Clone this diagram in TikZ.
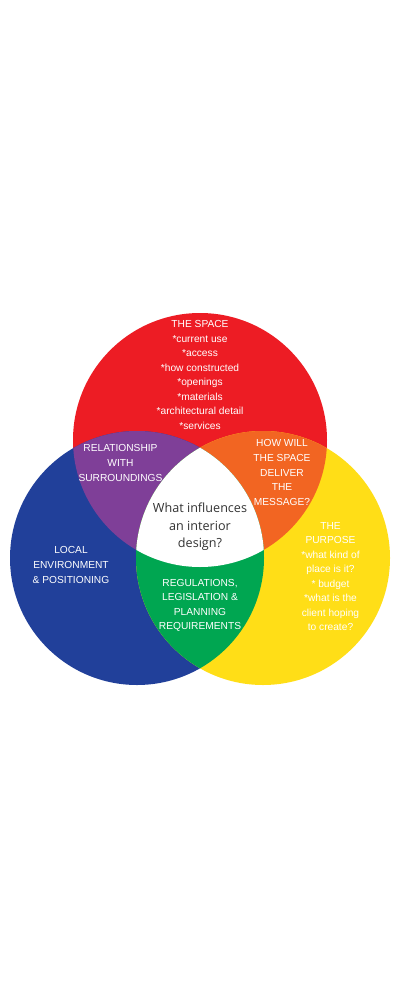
\documentclass[tikz,border=0pt]{standalone}
\usepackage{fontspec}
\setmainfont{Liberation Sans}
\newfontfamily\centerfont{Open Sans}
\definecolor{vred}{HTML}{ED1C24}
\definecolor{vblue}{HTML}{21409A}
\definecolor{vyellow}{HTML}{FFDE17}
\definecolor{vpurple}{HTML}{7F3F98}
\definecolor{vorange}{HTML}{F26522}
\definecolor{vgreen}{HTML}{00A651}
\definecolor{vgray}{HTML}{333333}
\tikzset{
  lbl/.style={align=center, text=white, inner sep=0pt,
    font=\fontsize{10.2}{14.55}\selectfont},
  ctr/.style={align=center, text=vgray, inner sep=0pt,
    font=\centerfont\fontsize{12.6}{17.5}\selectfont},
  ring/.style={circle, minimum size=254pt, inner sep=0pt, draw=none}
}
\begin{document}
\begin{tikzpicture}[x=1pt,y=-1pt]
\useasboundingbox (0,0) rectangle (400,1000);
\fill[white] (0,0) rectangle (400,1000);
% circles
\node[ring, fill=vred] (space) at (200,440) {};
\node[ring, fill=vblue] (local) at (137,558) {};
\node[ring, fill=vyellow] (purpose) at (263,558) {};
% pairwise intersections
\begin{scope}
  \clip (200,440) circle (127);
  \fill[vpurple] (137,558) circle (127);
\end{scope}
\begin{scope}
  \clip (200,440) circle (127);
  \fill[vorange] (263,558) circle (127);
\end{scope}
\begin{scope}
  \clip (137,558) circle (127);
  \fill[vgreen] (263,558) circle (127);
\end{scope}
\begin{scope}
  \clip (200,440) circle (127);
  \clip (137,558) circle (127);
  \fill[white] (263,558) circle (127);
\end{scope}
% labels
\node[lbl] (tspace) at (200,375) {THE SPACE\\*current use\\*access\\*how constructed\\*openings\\*materials\\*architectural detail\\*services};
\node[lbl] (trel) at (120.5,463) {RELATIONSHIP\\WITH\\SURROUNDINGS};
\node[lbl] (thow) at (282,472.5) {HOW WILL\\THE SPACE\\DELIVER\\THE\\MESSAGE?};
\node[ctr] (tctr) at (200,527) {What influences\\an interior\\design?};
\node[lbl] (tloc) at (71,565) {LOCAL\\ENVIRONMENT\\\& POSITIONING};
\node[lbl] (treg) at (200,605.5) {REGULATIONS,\\LEGISLATION \&\\PLANNING\\REQUIREMENTS};
\node[lbl] (tpur) at (330.5,576.5) {THE\\PURPOSE\\*what kind of\\place is it?\\* budget\\*what is the\\client hoping\\to create?};
\end{tikzpicture}
\end{document}
